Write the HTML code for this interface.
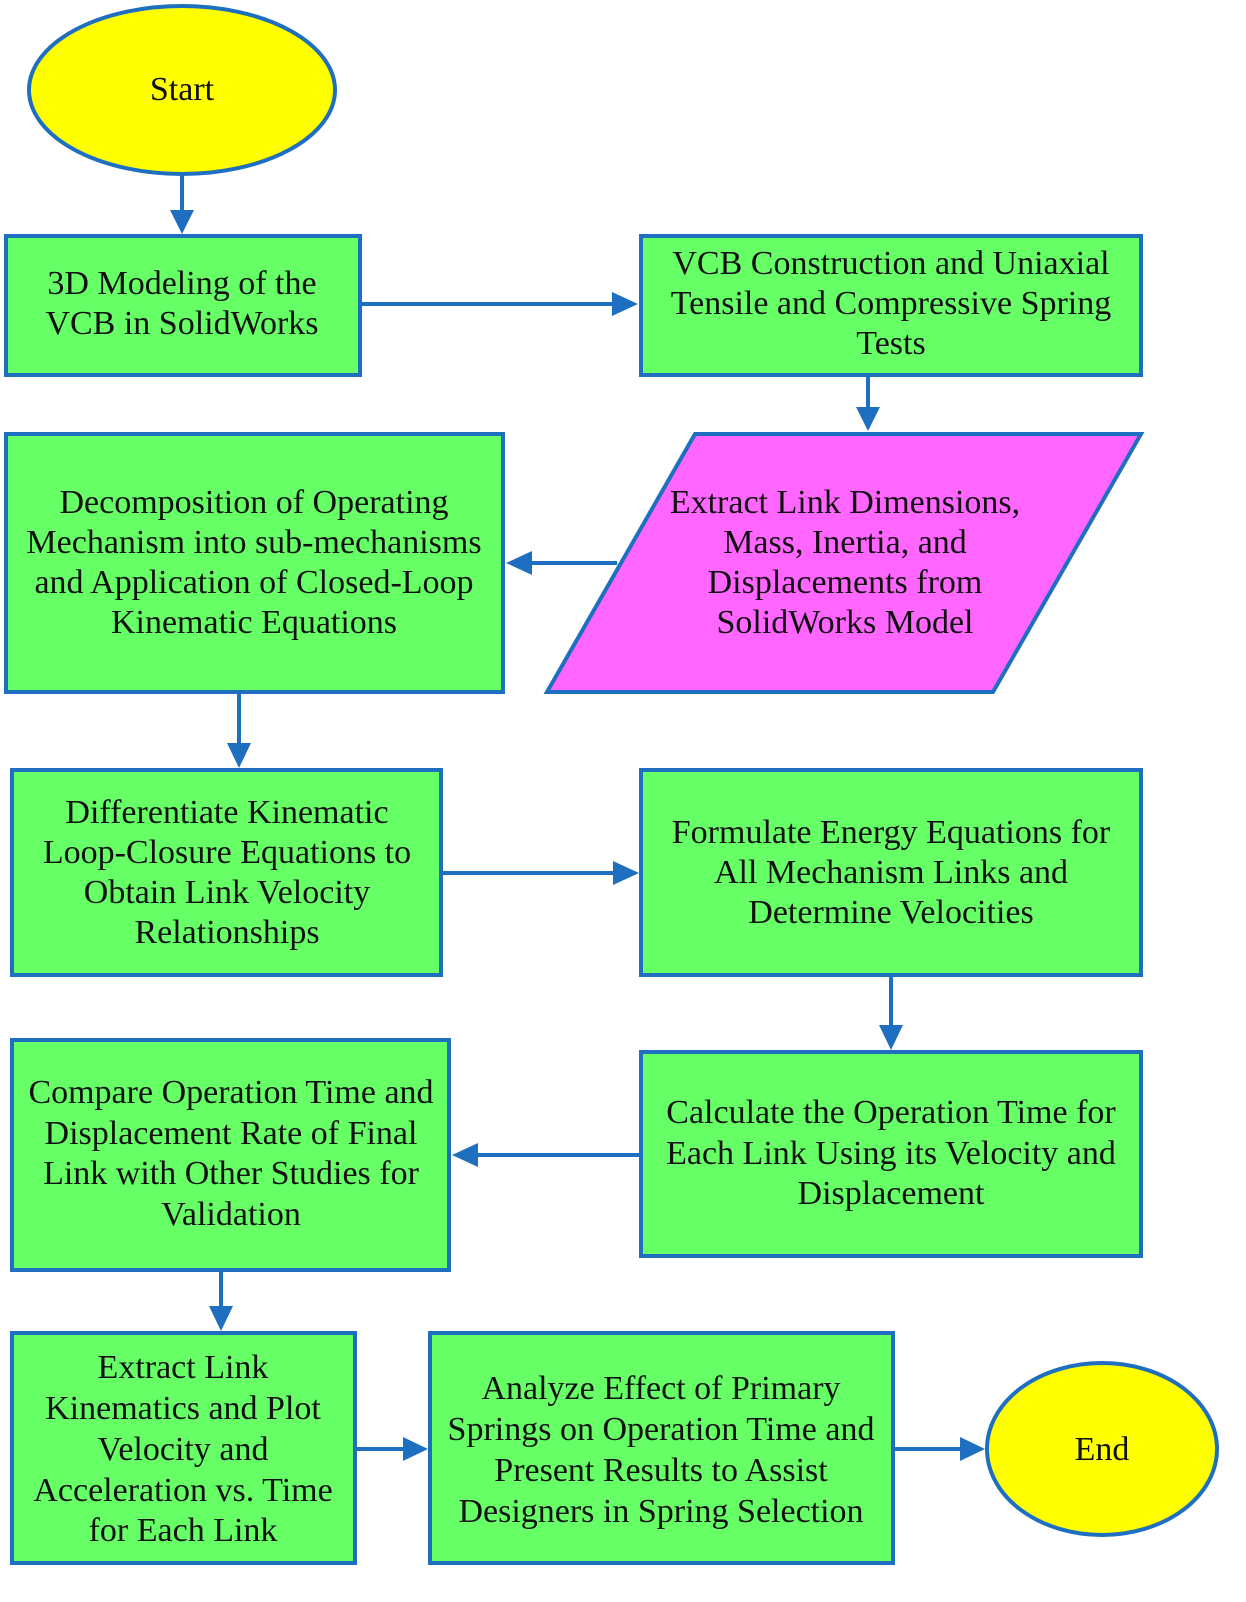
<!DOCTYPE html>
<html><head><meta charset="utf-8"><style>
html,body{margin:0;padding:0;background:#fff;}
svg{display:block;}
text{font-family:"Liberation Serif",serif;font-size:34px;fill:#111;text-anchor:middle;}
</style></head><body>
<svg width="1246" height="1602" viewBox="0 0 1246 1602" xmlns="http://www.w3.org/2000/svg">
<g stroke="#1e6fbf" stroke-width="4">
<ellipse cx="182" cy="90" rx="153" ry="84" fill="#ffff00"/>
<rect x="6" y="236" width="354" height="139" fill="#66ff66"/>
<rect x="641" y="236" width="500" height="139" fill="#66ff66"/>
<polygon points="695,434 1141,434 993,692 547,692" fill="#ff66ff"/>
<rect x="6" y="434" width="497" height="258" fill="#66ff66"/>
<rect x="12" y="770" width="429" height="205" fill="#66ff66"/>
<rect x="641" y="770" width="500" height="205" fill="#66ff66"/>
<rect x="641" y="1052" width="500" height="204" fill="#66ff66"/>
<rect x="12" y="1040" width="437" height="230" fill="#66ff66"/>
<rect x="12" y="1333" width="343" height="230" fill="#66ff66"/>
<rect x="430" y="1333" width="463" height="230" fill="#66ff66"/>
<ellipse cx="1102" cy="1449" rx="115" ry="86" fill="#ffff00"/>
<g fill="none">
<line x1="182" y1="174" x2="182" y2="215"/>
<line x1="360" y1="304" x2="615" y2="304"/>
<line x1="868" y1="375" x2="868" y2="412"/>
<line x1="617" y1="563" x2="528" y2="563"/>
<line x1="239" y1="692" x2="239" y2="748"/>
<line x1="441" y1="873" x2="618" y2="873"/>
<line x1="891" y1="975" x2="891" y2="1030"/>
<line x1="641" y1="1155" x2="474" y2="1155"/>
<line x1="221" y1="1270" x2="221" y2="1311"/>
<line x1="355" y1="1449" x2="408" y2="1449"/>
<line x1="893" y1="1449" x2="965" y2="1449"/>
</g>
</g>
<g fill="#1e6fbf">
<polygon points="170,210 194,210 182,234"/>
<polygon points="612,292 612,316 638,304"/>
<polygon points="856,407 880,407 868,431"/>
<polygon points="532,551 532,575 506,563"/>
<polygon points="227,743 251,743 239,768"/>
<polygon points="613,861 613,885 639,873"/>
<polygon points="879,1025 903,1025 891,1050"/>
<polygon points="478,1143 478,1167 452,1155"/>
<polygon points="209,1306 233,1306 221,1331"/>
<polygon points="403,1437 403,1461 428,1449"/>
<polygon points="960,1437 960,1461 985,1449"/>
</g>
<text x="182" y="100">Start</text>
<text x="182" y="294">3D Modeling of the</text>
<text x="182" y="334">VCB in SolidWorks</text>
<text x="891" y="274">VCB Construction and Uniaxial</text>
<text x="891" y="314">Tensile and Compressive Spring</text>
<text x="891" y="354">Tests</text>
<text x="845" y="513">Extract Link Dimensions,</text>
<text x="845" y="553">Mass, Inertia, and</text>
<text x="845" y="593">Displacements from</text>
<text x="845" y="633">SolidWorks Model</text>
<text x="254" y="513">Decomposition of Operating</text>
<text x="254" y="553">Mechanism into sub-mechanisms</text>
<text x="254" y="593">and Application of Closed-Loop</text>
<text x="254" y="633">Kinematic Equations</text>
<text x="227" y="823">Differentiate Kinematic</text>
<text x="227" y="863">Loop-Closure Equations to</text>
<text x="227" y="903">Obtain Link Velocity</text>
<text x="227" y="943">Relationships</text>
<text x="891" y="843">Formulate Energy Equations for</text>
<text x="891" y="883">All Mechanism Links and</text>
<text x="891" y="923">Determine Velocities</text>
<text x="891" y="1123">Calculate the Operation Time for</text>
<text x="891" y="1164">Each Link Using its Velocity and</text>
<text x="891" y="1204">Displacement</text>
<text x="231" y="1103">Compare Operation Time and</text>
<text x="231" y="1144">Displacement Rate of Final</text>
<text x="231" y="1184">Link with Other Studies for</text>
<text x="231" y="1225">Validation</text>
<text x="183" y="1378">Extract Link</text>
<text x="183" y="1419">Kinematics and Plot</text>
<text x="183" y="1460">Velocity and</text>
<text x="183" y="1501">Acceleration vs. Time</text>
<text x="183" y="1541">for Each Link</text>
<text x="661" y="1399">Analyze Effect of Primary</text>
<text x="661" y="1440">Springs on Operation Time and</text>
<text x="661" y="1481">Present Results to Assist</text>
<text x="661" y="1522">Designers in Spring Selection</text>
<text x="1102" y="1460">End</text>
</svg>
</body></html>
